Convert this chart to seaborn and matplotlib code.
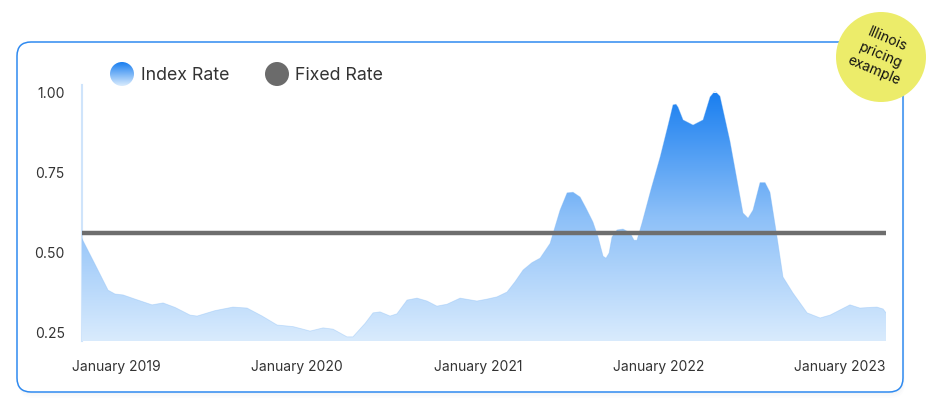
import numpy as np
import pandas as pd
import matplotlib.pyplot as plt
import seaborn as sns
from matplotlib.patches import FancyBboxPatch, Circle, Polygon
from matplotlib.colors import LinearSegmentedColormap

# decimal years
years = [2018.812, 2018.884, 2018.956, 2018.994, 2019.039, 2019.105, 2019.199, 2019.260,
         2019.326, 2019.409, 2019.448, 2019.547, 2019.646, 2019.724, 2019.807, 2019.890,
         2019.978, 2020.033, 2020.072, 2020.144, 2020.199, 2020.276, 2020.309, 2020.376,
         2020.420, 2020.459, 2020.514, 2020.552, 2020.608, 2020.663, 2020.718, 2020.773,
         2020.829, 2020.901, 2020.994, 2021.050, 2021.105, 2021.160, 2021.204, 2021.249,
         2021.298, 2021.343, 2021.398, 2021.453, 2021.492, 2021.525, 2021.564, 2021.597,
         2021.635, 2021.663, 2021.691, 2021.707, 2021.724, 2021.740, 2021.768, 2021.801,
         2021.840, 2021.862, 2021.878, 2021.906, 2021.956, 2022.006, 2022.050, 2022.077,
         2022.094, 2022.105, 2022.133, 2022.188, 2022.243, 2022.282, 2022.309, 2022.337,
         2022.392, 2022.464, 2022.492, 2022.519, 2022.558, 2022.586, 2022.613, 2022.652,
         2022.685, 2022.740, 2022.818, 2022.890, 2022.945, 2023.000, 2023.055, 2023.110,
         2023.166, 2023.204, 2023.238, 2023.254]
index_rate = [0.545, 0.465, 0.384, 0.372, 0.369, 0.356, 0.338, 0.344,
              0.330, 0.306, 0.303, 0.320, 0.331, 0.328, 0.303, 0.275,
              0.270, 0.262, 0.256, 0.266, 0.262, 0.238, 0.238, 0.280,
              0.313, 0.316, 0.303, 0.310, 0.353, 0.359, 0.350, 0.334,
              0.340, 0.359, 0.350, 0.356, 0.363, 0.378, 0.410, 0.447,
              0.470, 0.484, 0.530, 0.634, 0.688, 0.690, 0.675, 0.640,
              0.597, 0.550, 0.490, 0.484, 0.500, 0.550, 0.572, 0.575,
              0.563, 0.540, 0.540, 0.594, 0.700, 0.800, 0.900, 0.963,
              0.965, 0.956, 0.916, 0.900, 0.916, 0.988, 1.006, 0.990,
              0.850, 0.625, 0.609, 0.634, 0.720, 0.720, 0.690, 0.550,
              0.425, 0.375, 0.313, 0.297, 0.306, 0.322, 0.338, 0.328,
              0.330, 0.331, 0.325, 0.313]
fixed_rate = 0.562
tick_years = [2019, 2020, 2021, 2022, 2023]
tick_labels = ["January 2019", "January 2020", "January 2021", "January 2022", "January 2023"]
y_ticks = [0.25, 0.50, 0.75, 1.00]

W, H = 939, 418
BASE, TOP = 0.225, 1.025

sns.set_style("white")
plt.rcParams["font.family"] = ["Inter", "DejaVu Sans"]

fig = plt.figure(figsize=(W / 100, H / 100), dpi=100)
fig.patch.set_facecolor("white")

# background layer in pixel coords: card, legend, badge
bg = fig.add_axes([0, 0, 1, 1], zorder=0)
bg.axis("off")

for off, a in [(6, 0.025), (4, 0.03), (2, 0.04)]:
    bg.add_patch(FancyBboxPatch((31 + off * 0.3, 56 + off), 858, 322, boxstyle="round,pad=14",
                                facecolor="#9aa6b8", edgecolor="none", alpha=a))
bg.add_patch(FancyBboxPatch((31, 56), 858, 322, boxstyle="round,pad=14",
                            facecolor="white", edgecolor="#2f8af0", lw=1.1))

leg_cmap = LinearSegmentedColormap.from_list("leg", ["#1a7ff0", "#d9ebfd"])
im_leg = bg.imshow(np.linspace(0, 1, 64).reshape(-1, 1), cmap=leg_cmap, aspect="auto",
                   extent=[110, 134, 86, 62], origin="upper", zorder=3)
c1 = Circle((122, 74), 12, transform=bg.transData, facecolor="none", edgecolor="none")
bg.add_patch(c1)
im_leg.set_clip_path(c1)
bg.text(141, 75, "Index Rate", va="center", ha="left", fontsize=12.8, color="#333333")
bg.add_patch(Circle((277, 74), 12, facecolor="#6b6b6b", edgecolor="none", zorder=3))
bg.text(295, 75, "Fixed Rate", va="center", ha="left", fontsize=12.8, color="#333333")

bg.add_patch(Circle((881, 57), 45, facecolor="#ecec6a", edgecolor="none", zorder=5))
bg.text(881, 55, "Illinois\npricing\nexample", rotation=-23, rotation_mode="anchor",
        ha="center", va="center", fontsize=10, linespacing=1.3, color="#111111", zorder=6)

bg.set_xlim(0, W)
bg.set_ylim(H, 0)

# chart
ax = fig.add_axes([82 / W, (H - 341) / H, (886 - 82) / W, (341 - 85) / H], zorder=1)
ax.set_facecolor("none")

df = pd.DataFrame({"year": years, "rate": index_rate})
cmap = LinearSegmentedColormap.from_list("idx", ["#d9ebfd", "#8dc0f8", "#1a7ff0"])
im = ax.imshow(np.linspace(0, 1, 256).reshape(-1, 1), cmap=cmap, aspect="auto", origin="lower",
               extent=[years[0], years[-1], BASE, 1.0], zorder=2)
verts = list(zip(years, index_rate)) + [(years[-1], BASE), (years[0], BASE)]
clip = Polygon(verts, closed=True, transform=ax.transData, facecolor="none", edgecolor="none")
ax.add_patch(clip)
im.set_clip_path(clip)

sns.lineplot(data=df, x="year", y="rate", ax=ax, color="#7fb8f6", lw=0.6, alpha=0.35, zorder=3)
sns.lineplot(x=[years[0], years[-1]], y=[fixed_rate, fixed_rate], ax=ax, color="#6e6e6e",
             lw=3.2, solid_capstyle="butt", zorder=4)

ax.set_xlim(years[0], years[-1])
ax.set_ylim(BASE, TOP)
ax.set_xticks(tick_years, tick_labels)
ax.set_yticks(y_ticks, [f"{v:.2f}" for v in y_ticks])
ax.tick_params(axis="x", length=0, pad=14, labelsize=10, labelcolor="#333333")
ax.tick_params(axis="y", length=0, pad=12.5, labelsize=10, labelcolor="#333333")
ax.set_xlabel("")
ax.set_ylabel("")
for s in ["top", "right", "bottom"]:
    ax.spines[s].set_visible(False)
ax.spines["left"].set_color("#cfe4fb")
ax.spines["left"].set_linewidth(1.5)
ax.spines["left"].set_zorder(1)

fig.savefig("out.png", dpi=100, facecolor="white")
